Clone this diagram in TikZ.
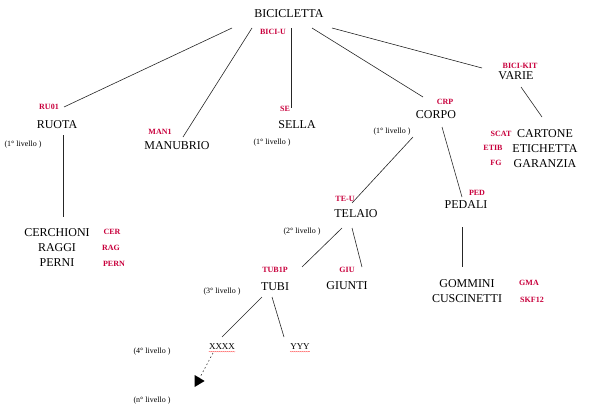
\documentclass[tikz,border=0pt]{standalone}
\usepackage{fontspec}
\setmainfont{Liberation Serif}
\usetikzlibrary{shapes.geometric, decorations.pathmorphing}
\definecolor{codered}{RGB}{200,0,60}
\tikzset{
    part/.style={inner sep=0pt, align=center, font=\fontsize{12}{15}\selectfont},
    small/.style={inner sep=0pt, font=\fontsize{9}{11}\selectfont},
    code/.style={inner sep=0pt, text=codered, font=\fontsize{8}{10}\selectfont\bfseries},
    level/.style={inner sep=0pt, font=\fontsize{8}{10}\selectfont},
    link/.style={draw=black!85, line width=0.6pt},
    typo/.style={draw=red!70, line width=0.3pt, decorate, decoration={snake, amplitude=0.4pt, segment length=2pt}}
}

\begin{document}
\begin{tikzpicture}[x=1pt, y=-1pt]
            \useasboundingbox (0,0) rectangle (590,415);
            % root
            \node[part] (bici) at (289,14) {BICICLETTA};
            \node[code] (biciu) at (273,32) {BICI-U};

            % 1st level
            \node[code] (ru) at (49,107) {RU01};
            \node[part] (ruota) at (57,125) {RUOTA};
            \node[level] (liv1a) at (23,145) {(1° livello )};
            \node[code] (man) at (160,132) {MAN1};
            \node[part] (manubrio) at (177,146) {MANUBRIO};
            \node[code] (se) at (285,109) {SE};
            \node[part] (sella) at (297,125) {SELLA};
            \node[level] (liv1b) at (272,143) {(1° livello )};
            \node[code] (crp) at (445,102) {CRP};
            \node[part] (corpo) at (436,115) {CORPO};
            \node[level] (liv1c) at (392,132) {(1° livello )};
            \node[code] (kit) at (520,66) {BICI-KIT};
            \node[part] (varie) at (516,76) {VARIE};

            % varie parts
            \node[part] (cartone) at (545,148.5) {CARTONE\\ETICHETTA\\GARANZIA};
            \node[code] (scat) at (501,134) {SCAT};
            \node[code] (etib) at (493,148) {ETIB};
            \node[code] (fg) at (496,163) {FG};

            % ruota parts
            \node[part] (cerchioni) at (57,248) {CERCHIONI\\RAGGI\\PERNI};
            \node[code] (cer) at (112,232) {CER};
            \node[code] (rag) at (111,248) {RAG};
            \node[code] (pern) at (114,264) {PERN};

            % 2nd level
            \node[code] (teu) at (345,199) {TE-U};
            \node[part] (telaio) at (356,214) {TELAIO};
            \node[level] (liv2) at (302,232) {(2° livello )};
            \node[code] (ped) at (477,193) {PED};
            \node[part] (pedali) at (466,205) {PEDALI};
            \node[part] (gommini) at (467,291.5) {GOMMINI\\CUSCINETTI};
            \node[code] (gma) at (529,283) {GMA};
            \node[code] (skf) at (532,300) {SKF12};

            % 3rd level
            \node[code] (tubp) at (275,270) {TUB1P};
            \node[part] (tubi) at (275,287) {TUBI};
            \node[level] (liv3) at (222,292) {(3° livello )};
            \node[code] (giu) at (347,270) {GIU};
            \node[part] (giunti) at (347,286) {GIUNTI};

            % 4th and n-th level
            \node[small] (xxxx) at (222,347) {XXXX};
            \node[small] (yyy) at (300,347) {YYY};
            \node[level] (liv4) at (152,352) {(4° livello )};
            \node[isosceles triangle, isosceles triangle stretches, fill=black, inner sep=0pt, minimum width=12pt, minimum height=10pt] (tip) at (198,381) {};
            \node[level] (livn) at (152,401) {(n° livello )};

            \path[link] ([shift={(-57,14)}]bici.center) -- ([shift={(7,-18)}]ruota.center);
            \path[link] ([shift={(-37,14)}]bici.center) -- ([shift={(6,-9)}]manubrio.center);
            \path[link] ([shift={(2,14)}]bici.center) -- ([shift={(-6,-17)}]sella.center);
            \path[link] ([shift={(23,14)}]bici.center) -- ([shift={(-13,-18)}]corpo.center);
            \path[link] ([shift={(43,14)}]bici.center) -- ([shift={(-34,-8)}]varie.center);
            \path[link] ([shift={(5,11)}]varie.center) -- ([shift={(-3,-31.5)}]cartone.center);
            \path[link] ([shift={(6,10)}]ruota.center) -- ([shift={(6,-31)}]cerchioni.center);
            \path[link] ([shift={(-23,22)}]corpo.center) -- ([shift={(-4,-11)}]telaio.center);
            \path[link] ([shift={(6,12)}]corpo.center) -- ([shift={(-4,-8)}]pedali.center);
            \path[link] ([shift={(-4,22)}]pedali.center) -- ([shift={(-5,-24.5)}]gommini.center);
            \path[link] ([shift={(-14,14)}]telaio.center) -- ([shift={(27,-20)}]tubi.center);
            \path[link] ([shift={(-4,14)}]telaio.center) -- ([shift={(15,-19)}]giunti.center);
            \path[link] ([shift={(-13,10)}]tubi.center) -- ([shift={(0,-10)}]xxxx.center);
            \path[link] ([shift={(-3,10)}]tubi.center) -- ([shift={(-16,-10)}]yyy.center);
            \path[link, dash pattern=on 1.5pt off 2.5pt] ([shift={(-9,6)}]xxxx.center) -- (tip);

            \path[typo] ([yshift=-1.5pt]xxxx.south west) -- ([yshift=-1.5pt]xxxx.south east);
            \path[typo] ([yshift=-1.5pt]yyy.south west) -- ([yshift=-1.5pt]yyy.south east);
        \end{tikzpicture}
\end{document}
